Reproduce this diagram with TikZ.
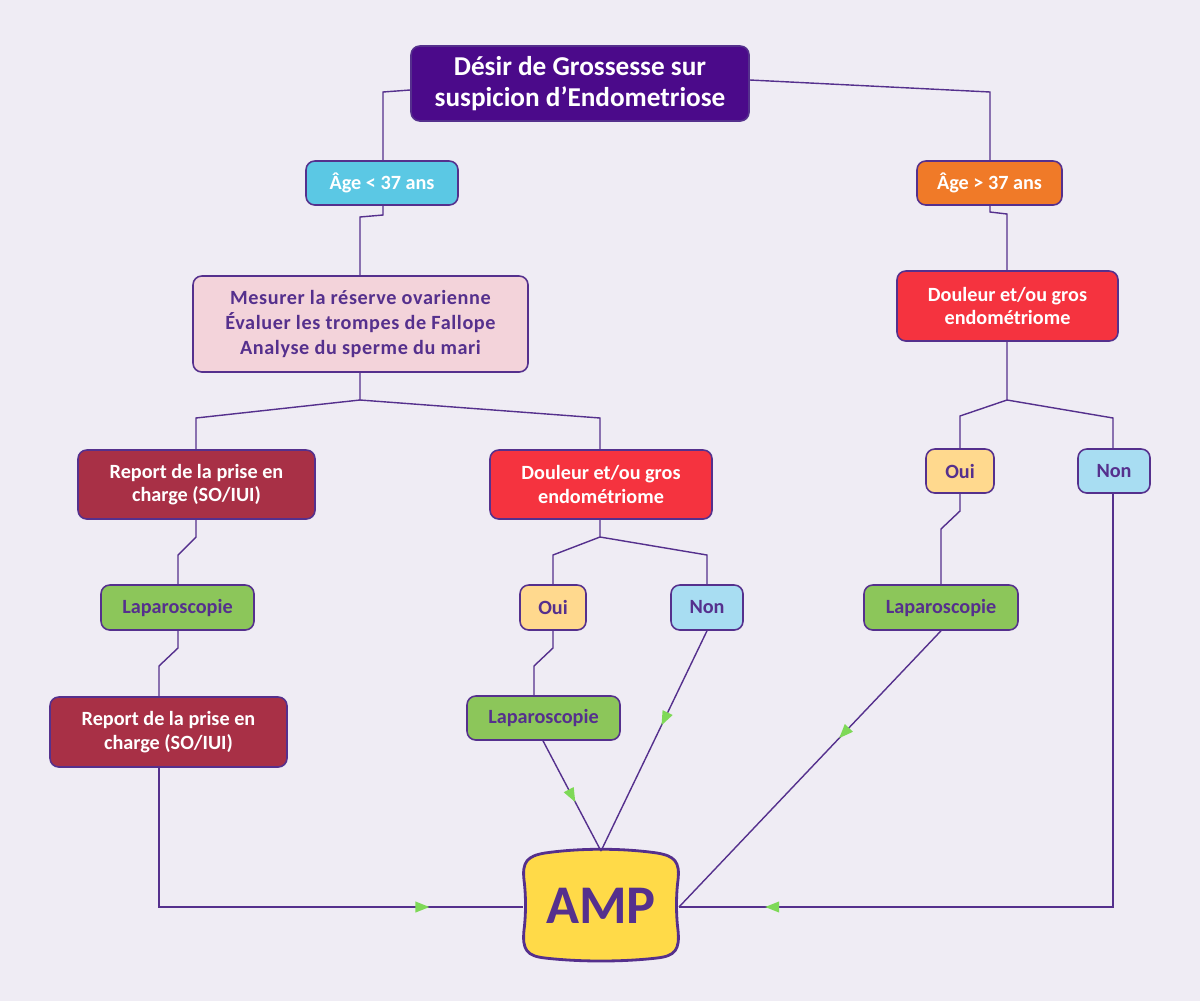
\documentclass[tikz,border=0pt]{standalone}
\usepackage{fontspec}
\setmainfont{Carlito}
\usetikzlibrary{decorations.markings,arrows.meta}
\definecolor{bg}{HTML}{EFECF4}
\definecolor{pl}{HTML}{55308D}
\definecolor{ttl}{HTML}{4B0A8A}
\definecolor{cy}{HTML}{5BC8E4}
\definecolor{orn}{HTML}{F07A28}
\definecolor{pk}{HTML}{F3D3DA}
\definecolor{rd}{HTML}{F5333F}
\definecolor{wn}{HTML}{A83046}
\definecolor{yl}{HTML}{FFD98E}
\definecolor{lb}{HTML}{A8DDF2}
\definecolor{gr}{HTML}{8CC65A}
\definecolor{amp}{HTML}{FFDA48}
\definecolor{ar}{HTML}{7ED957}
\begin{document}
\begin{tikzpicture}[x=0.02cm,y=-0.02cm,
 box/.style={draw=pl,line width=0.9pt,rounded corners=5pt,font=\bfseries\fontsize{11.5}{13.5}\selectfont,align=center,inner sep=0pt},
 wb/.style={box,text=white},
 pb/.style={box,text=pl},
 ln/.style={draw=pl,line width=0.8pt},
 mk/.style={ln,postaction={decorate},decoration={markings,mark=at position #1 with {\fill[ar] (-4pt,-3.2pt)--(4pt,0)--(-4pt,3.2pt)--cycle;}}}]
\fill[bg] (0,0) rectangle (1200,1001);
\useasboundingbox (0,0) rectangle (1200,1001);
\node[wb,fill=ttl,minimum width=338*0.02cm,minimum height=75*0.02cm,font=\bfseries\fontsize{15.5}{17.5}\selectfont] (t) at (580,83.5) {Désir de Grossesse sur\\suspicion d’Endometriose};
\node[wb,fill=cy,minimum width=152*0.02cm,minimum height=44*0.02cm] (a1) at (382,183) {Âge < 37 ans};
\node[wb,fill=orn,minimum width=145*0.02cm,minimum height=44*0.02cm] (a2) at (989.5,183) {Âge > 37 ans};
\node[pb,fill=pk,minimum width=335*0.02cm,minimum height=96*0.02cm,font=\bfseries\fontsize{11.5}{14.5}\selectfont] (m) at (360.5,324) {\addfontfeature{LetterSpace=3}Mesurer la réserve ovarienne\\\addfontfeature{LetterSpace=3}Évaluer les trompes de Fallope\\\addfontfeature{LetterSpace=3}Analyse du sperme du mari};
\node[wb,fill=rd,minimum width=221*0.02cm,minimum height=70*0.02cm] (d2) at (1007.5,306) {Douleur et/ou gros\\endométriome};
\node[wb,fill=wn,minimum width=237*0.02cm,minimum height=69*0.02cm] (r1) at (196.5,484.5) {Report de la prise en\\charge (SO/IUI)};
\node[wb,fill=rd,minimum width=222*0.02cm,minimum height=69*0.02cm] (d1) at (601,484.5) {Douleur et/ou gros\\endométriome};
\node[pb,fill=yl,minimum width=68*0.02cm,minimum height=44*0.02cm] (o2) at (960,471) {Oui};
\node[pb,fill=lb,minimum width=72*0.02cm,minimum height=44*0.02cm] (n2) at (1114,471) {Non};
\node[pb,fill=gr,minimum width=153*0.02cm,minimum height=45*0.02cm] (l1) at (177.5,607.5) {Laparoscopie};
\node[pb,fill=yl,minimum width=66*0.02cm,minimum height=45*0.02cm] (o1) at (553,607.5) {Oui};
\node[pb,fill=lb,minimum width=72*0.02cm,minimum height=45*0.02cm] (n1) at (707,607.5) {Non};
\node[pb,fill=gr,minimum width=154*0.02cm,minimum height=45*0.02cm] (l3) at (941,607.5) {Laparoscopie};
\node[wb,fill=wn,minimum width=237*0.02cm,minimum height=70*0.02cm] (r2) at (168.5,732) {Report de la prise en\\charge (SO/IUI)};
\node[pb,fill=gr,minimum width=153*0.02cm,minimum height=44*0.02cm] (l2) at (543.5,718) {Laparoscopie};
% AMP
\coordinate (A) at (601,905.5);
\node[inner sep=0pt,minimum width=158*0.02cm,minimum height=109*0.02cm] (amp) at (A) {};
\filldraw[fill=amp,draw=pl,line width=1.6pt] (545,853) .. controls (580,848) and (622,848) .. (657,853)
 .. controls (675,856) and (680,862) .. (678,880) .. controls (676,895) and (676,915) .. (678,930)
 .. controls (680,950) and (675,956) .. (657,958) .. controls (622,962) and (580,962) .. (545,958)
 .. controls (527,956) and (522,950) .. (524,930) .. controls (526,915) and (526,895) .. (524,880)
 .. controls (522,862) and (527,856) .. (545,853) -- cycle;
\node[text=pl,font=\bfseries\fontsize{31}{34}\selectfont] at (A) {AMP};
\coordinate (ampT) at (601,851); \coordinate (ampL) at (523,907); \coordinate (ampR) at (679,907);
% connectors
\draw[ln] (t.west|-0,90) -- (383,92) -- (a1.north-|383,0);
\draw[ln] (t.east|-0,80) -- (990,92) -- (a2.north-|990,0);
\draw[ln] (a1.south-|383,0) -- (383,215) -- (360,217) -- (m.north-|360,0);
\draw[ln] (a2.south-|990,0) -- (990,212) -- (1007,214) -- (d2.north-|1007,0);
\draw[ln] (m.south-|360,0) -- (360,400) -- (196,418) -- (r1.north-|196,0);
\draw[ln] (360,400) -- (600,418) -- (d1.north-|600,0);
\draw[ln] (d2.south-|1007,0) -- (1007,400) -- (960,416) -- (o2.north-|960,0);
\draw[ln] (1007,400) -- (1113,418) -- (n2.north-|1113,0);
\draw[ln] (r1.south-|196,0) -- (196,537) -- (178,555) -- (l1.north-|178,0);
\draw[ln] (l1.south-|178,0) -- (178,648) -- (159,666) -- (r2.north-|159,0);
\draw[ln] (d1.south-|600,0) -- (600,537) -- (553,555) -- (o1.north-|553,0);
\draw[ln] (600,537) -- (707,555) -- (n1.north-|707,0);
\draw[ln] (o1.south-|553,0) -- (553,648) -- (534,666) -- (l2.north-|534,0);
\draw[ln] (o2.south-|960,0) -- (960,511) -- (941,529) -- (l3.north-|941,0);
\draw[mk=0.8] (r2.south-|159,0) -- (159,907) -- (ampL);
\draw[mk=0.5] (l2.south-|543,0) -- (ampT);
\draw[mk=0.4] (n1.south-|707,0) -- (ampT);
\draw[mk=0.37] (l3.south-|941,0) -- (ampR);
\draw[mk=0.89] (n2.south-|1113,0) -- (1113,907) -- (ampR);
\end{tikzpicture}
\end{document}
